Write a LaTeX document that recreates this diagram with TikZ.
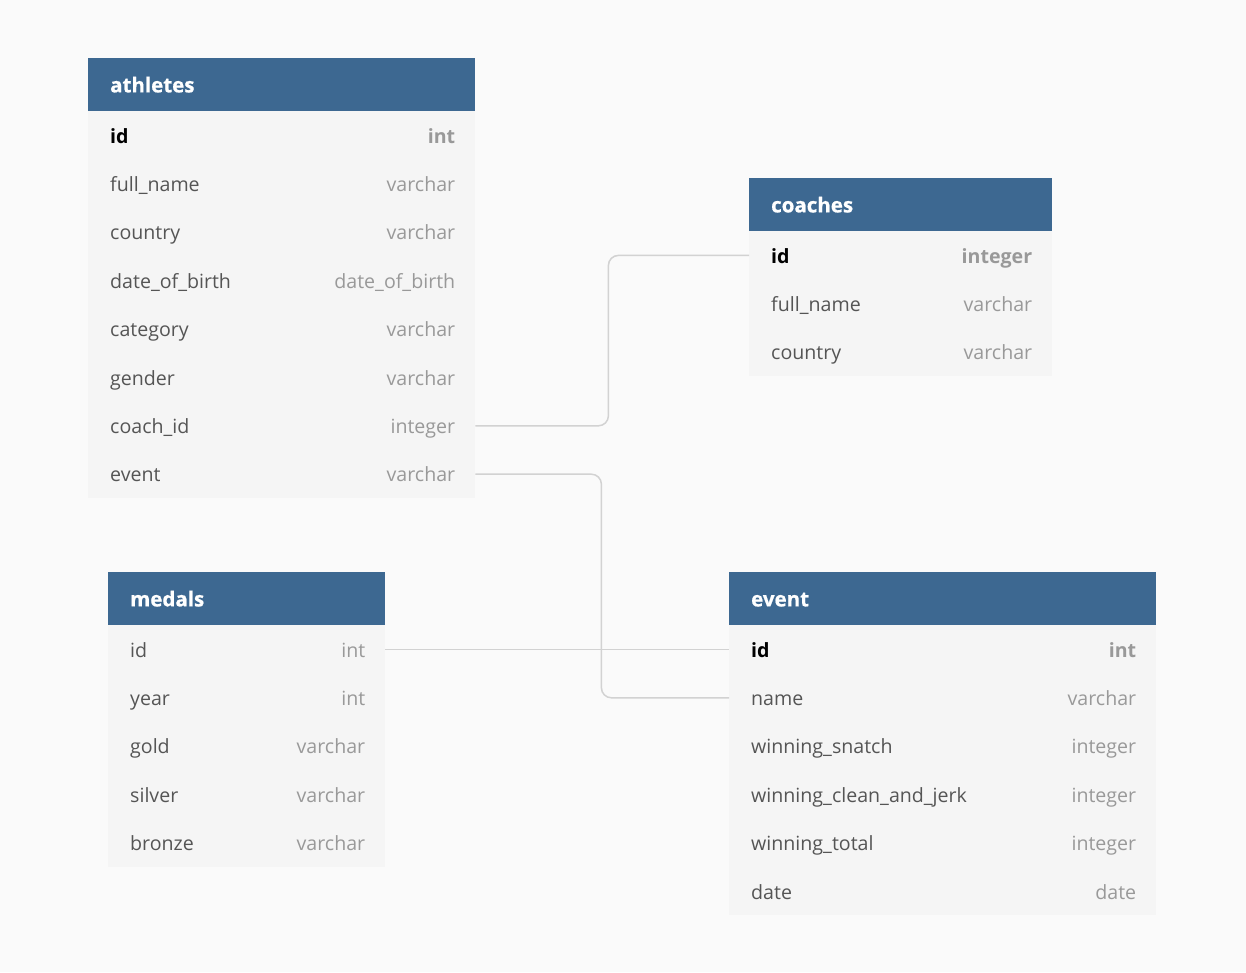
\documentclass[tikz,border=0pt]{standalone}
\usepackage{fontspec}
\setmainfont{Open Sans}
\newfontfamily\headfont[BoldFeatures={FakeBold=0.7}]{Open Sans}
\usetikzlibrary{calc}
\definecolor{bgc}{HTML}{FAFAFA}
\definecolor{bodyc}{HTML}{F5F5F5}
\definecolor{headc}{HTML}{3D6891}
\definecolor{namec}{HTML}{555555}
\definecolor{typec}{HTML}{999999}
\definecolor{linec}{HTML}{D2D2D2}
\tikzset{
  headbox/.style={fill=headc, draw=none, inner sep=0pt, anchor=north west},
  bodybox/.style={fill=bodyc, draw=none, inner sep=0pt, anchor=north west},
  rowbox/.style={draw=none, inner sep=0pt, minimum height=48.4pt, anchor=north west},
  htext/.style={text=white, font=\fontsize{20.5}{24}\headfont\bfseries, anchor=mid west, inner sep=0pt, yshift=-5pt},
  fname/.style={text=namec, font=\fontsize{19.6}{22}\selectfont, anchor=mid west, inner sep=0pt, yshift=-5pt},
  fnamepk/.style={text=black, font=\fontsize{19.6}{22}\selectfont\bfseries, anchor=mid west, inner sep=0pt, yshift=-5pt},
  ftype/.style={text=typec, font=\fontsize{19.6}{22}\selectfont, anchor=mid east, inner sep=0pt, yshift=-5pt},
  ftypepk/.style={text=typec, font=\fontsize{19.6}{22}\selectfont\bfseries, anchor=mid east, inner sep=0pt, yshift=-5pt},
  conn/.style={draw=linec, line width=1.5pt, rounded corners=10pt},
}
\begin{document}
\begin{tikzpicture}[x=1pt,y=-1pt]
\fill[bgc] (0,0) rectangle (1246,972);
\useasboundingbox (0,0) rectangle (1246,972);

% ---------- athletes ----------
\node[bodybox, minimum width=387pt, minimum height=387pt] (ath-body) at (88,111) {};
\node[headbox, minimum width=387pt, minimum height=53pt] (ath-head) at (88,58) {};
\node[htext] at ([xshift=22pt]ath-head.west) {athletes};
\node[rowbox, minimum width=387pt] (ath-id) at (88,111.0) {};
\node[rowbox, minimum width=387pt] (ath-fullname) at (88,159.4) {};
\node[rowbox, minimum width=387pt] (ath-country) at (88,207.8) {};
\node[rowbox, minimum width=387pt] (ath-dob) at (88,256.2) {};
\node[rowbox, minimum width=387pt] (ath-category) at (88,304.6) {};
\node[rowbox, minimum width=387pt] (ath-gender) at (88,353.0) {};
\node[rowbox, minimum width=387pt] (ath-coach) at (88,401.4) {};
\node[rowbox, minimum width=387pt] (ath-event) at (88,449.8) {};
\node[fnamepk] at ([xshift=22pt]ath-id.west) {id};
\node[ftypepk] at ([xshift=-20pt]ath-id.east) {int};
\node[fname] at ([xshift=22pt]ath-fullname.west) {full\_name};
\node[ftype] at ([xshift=-20pt]ath-fullname.east) {varchar};
\node[fname] at ([xshift=22pt]ath-country.west) {country};
\node[ftype] at ([xshift=-20pt]ath-country.east) {varchar};
\node[fname] at ([xshift=22pt]ath-dob.west) {date\_of\_birth};
\node[ftype] at ([xshift=-20pt]ath-dob.east) {date\_of\_birth};
\node[fname] at ([xshift=22pt]ath-category.west) {category};
\node[ftype] at ([xshift=-20pt]ath-category.east) {varchar};
\node[fname] at ([xshift=22pt]ath-gender.west) {gender};
\node[ftype] at ([xshift=-20pt]ath-gender.east) {varchar};
\node[fname] at ([xshift=22pt]ath-coach.west) {coach\_id};
\node[ftype] at ([xshift=-20pt]ath-coach.east) {integer};
\node[fname] at ([xshift=22pt]ath-event.west) {event};
\node[ftype] at ([xshift=-20pt]ath-event.east) {varchar};

% ---------- coaches ----------
\node[bodybox, minimum width=303pt, minimum height=145pt] (coa-body) at (749,231) {};
\node[headbox, minimum width=303pt, minimum height=53pt] (coa-head) at (749,178) {};
\node[htext] at ([xshift=22pt]coa-head.west) {coaches};
\node[rowbox, minimum width=303pt] (coa-id) at (749,231.0) {};
\node[rowbox, minimum width=303pt] (coa-fullname) at (749,279.4) {};
\node[rowbox, minimum width=303pt] (coa-country) at (749,327.8) {};
\node[fnamepk] at ([xshift=22pt]coa-id.west) {id};
\node[ftypepk] at ([xshift=-20pt]coa-id.east) {integer};
\node[fname] at ([xshift=22pt]coa-fullname.west) {full\_name};
\node[ftype] at ([xshift=-20pt]coa-fullname.east) {varchar};
\node[fname] at ([xshift=22pt]coa-country.west) {country};
\node[ftype] at ([xshift=-20pt]coa-country.east) {varchar};

% ---------- medals ----------
\node[bodybox, minimum width=277pt, minimum height=242pt] (med-body) at (108,625) {};
\node[headbox, minimum width=277pt, minimum height=53pt] (med-head) at (108,572) {};
\node[htext] at ([xshift=22pt]med-head.west) {medals};
\node[rowbox, minimum width=277pt] (med-id) at (108,625.0) {};
\node[rowbox, minimum width=277pt] (med-year) at (108,673.4) {};
\node[rowbox, minimum width=277pt] (med-gold) at (108,721.8) {};
\node[rowbox, minimum width=277pt] (med-silver) at (108,770.2) {};
\node[rowbox, minimum width=277pt] (med-bronze) at (108,818.6) {};
\node[fname] at ([xshift=22pt]med-id.west) {id};
\node[ftype] at ([xshift=-20pt]med-id.east) {int};
\node[fname] at ([xshift=22pt]med-year.west) {year};
\node[ftype] at ([xshift=-20pt]med-year.east) {int};
\node[fname] at ([xshift=22pt]med-gold.west) {gold};
\node[ftype] at ([xshift=-20pt]med-gold.east) {varchar};
\node[fname] at ([xshift=22pt]med-silver.west) {silver};
\node[ftype] at ([xshift=-20pt]med-silver.east) {varchar};
\node[fname] at ([xshift=22pt]med-bronze.west) {bronze};
\node[ftype] at ([xshift=-20pt]med-bronze.east) {varchar};

% ---------- event ----------
\node[bodybox, minimum width=427pt, minimum height=290pt] (evt-body) at (729,625) {};
\node[headbox, minimum width=427pt, minimum height=53pt] (evt-head) at (729,572) {};
\node[htext] at ([xshift=22pt]evt-head.west) {event};
\node[rowbox, minimum width=427pt] (evt-id) at (729,625.0) {};
\node[rowbox, minimum width=427pt] (evt-name) at (729,673.4) {};
\node[rowbox, minimum width=427pt] (evt-snatch) at (729,721.8) {};
\node[rowbox, minimum width=427pt] (evt-cj) at (729,770.2) {};
\node[rowbox, minimum width=427pt] (evt-total) at (729,818.6) {};
\node[rowbox, minimum width=427pt] (evt-date) at (729,867.0) {};
\node[fnamepk] at ([xshift=22pt]evt-id.west) {id};
\node[ftypepk] at ([xshift=-20pt]evt-id.east) {int};
\node[fname] at ([xshift=22pt]evt-name.west) {name};
\node[ftype] at ([xshift=-20pt]evt-name.east) {varchar};
\node[fname] at ([xshift=22pt]evt-snatch.west) {winning\_snatch};
\node[ftype] at ([xshift=-20pt]evt-snatch.east) {integer};
\node[fname] at ([xshift=22pt]evt-cj.west) {winning\_clean\_and\_jerk};
\node[ftype] at ([xshift=-20pt]evt-cj.east) {integer};
\node[fname] at ([xshift=22pt]evt-total.west) {winning\_total};
\node[ftype] at ([xshift=-20pt]evt-total.east) {integer};
\node[fname] at ([xshift=22pt]evt-date.west) {date};
\node[ftype] at ([xshift=-20pt]evt-date.east) {date};

% ---------- connectors ----------
\draw[conn] (ath-coach.east) -- ++(133pt,0) |- (coa-id.west);
\draw[conn] (ath-event.east) -- ++(126pt,0) |- (evt-name.west);
\draw[conn] (med-id.east) -- (evt-id.west);
\end{tikzpicture}
\end{document}
